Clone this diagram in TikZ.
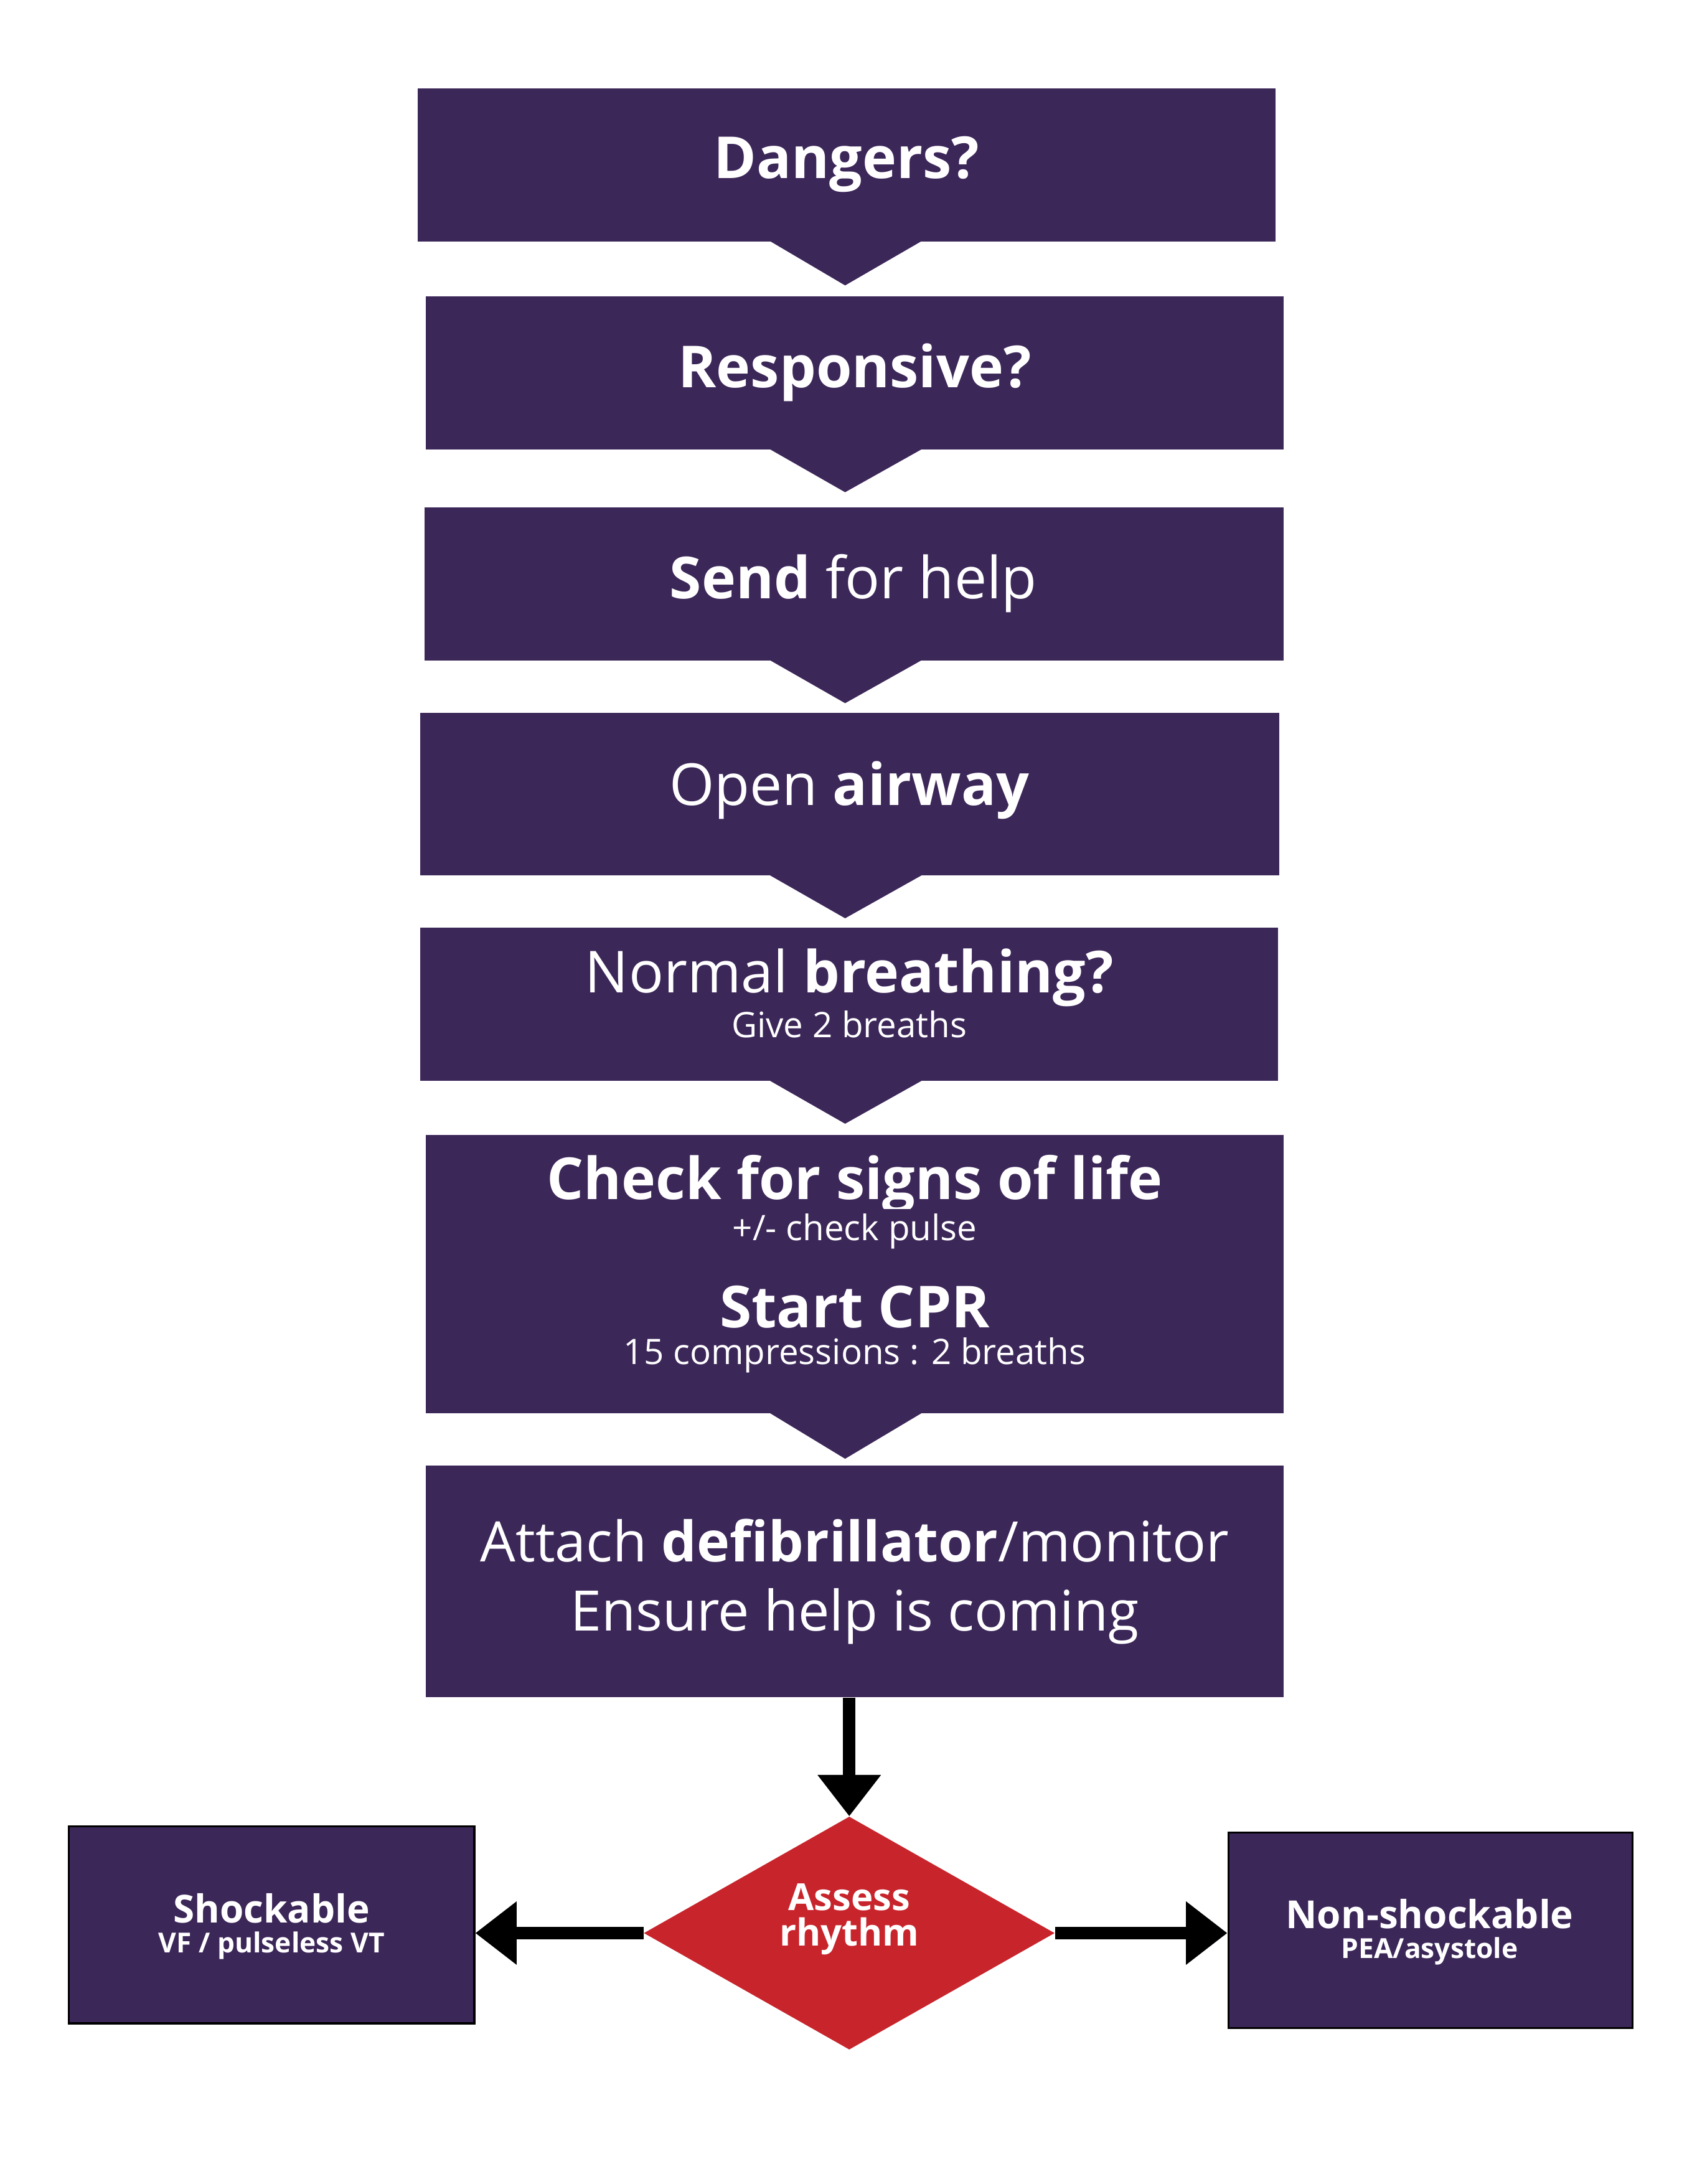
\documentclass[tikz,border=0pt]{standalone}
\usepackage{fontspec}
\setmainfont{Open Sans}
\usetikzlibrary{shapes.geometric,arrows.meta}
\definecolor{pur}{HTML}{3C2759}
\definecolor{rd}{HTML}{C8242C}
\tikzset{
 box/.style={fill=pur,text=white,align=center},
 big/.style={font=\fontsize{42}{48}\selectfont},
 small/.style={font=\fontsize{25.5}{30}\selectfont},
 thick arrow/.style={line width=9pt,-{Triangle[length=30pt,width=44pt]}}
}
\begin{document}
\begin{tikzpicture}[x=1pt,y=-1pt]
\useasboundingbox (0,0) rectangle (1227,1584);
\fill[pur] (303,64) rectangle (925,175); \fill[pur] (557,174) -- (613,207) -- (670,174) -- cycle;
\node[box,big] (b1) at (614,119) {\textbf{Dangers?}};
\fill[pur] (309,215) rectangle (931,326); \fill[pur] (557,325) -- (613,357) -- (670,325) -- cycle;
\node[box,big] (b2) at (620,270) {\textbf{Responsive?}};
\fill[pur] (308,368) rectangle (931,479); \fill[pur] (557,478) -- (613,510) -- (670,478) -- cycle;
\node[box,big] (b3) at (619,423) {\textbf{Send} for help};
\fill[pur] (305,517) rectangle (928,635); \fill[pur] (557,634) -- (613,666) -- (670,634) -- cycle;
\node[box,big] (b4) at (616,573) {Open \textbf{airway}};
\fill[pur] (305,673) rectangle (927,784); \fill[pur] (557,783) -- (613,815) -- (670,783) -- cycle;
\node[box,big] (b5) at (616,709) {Normal \textbf{breathing?}};
\node[box,small] (b5s) at (616,743) {Give 2 breaths};
\fill[pur] (309,823) rectangle (931,1025); \fill[pur] (557,1024) -- (613,1058) -- (670,1024) -- cycle;
\node[box,big] (b6) at (620,859) {\textbf{Check for signs of life}};
\node[box,small] (b6s) at (620,893) {+/- check pulse};
\node[box,big] (b6b) at (620,948) {\textbf{Start CPR}};
\node[box,small] (b6c) at (620,983) {15 compressions : 2 breaths};
\node[box,minimum width=622pt,minimum height=168pt,inner sep=0pt,
  font=\fontsize{40.5}{50}\selectfont] (b7) at (620,1147)
  {Attach \textbf{defibrillator}/monitor\\Ensure help is coming};
\node[diamond,fill=rd,minimum width=298pt,minimum height=169pt,inner sep=0pt,aspect=1.76] (d) at (616,1402) {};
\node[text=white,align=center,font=\bfseries\fontsize{27}{26}\selectfont] at (616,1392) {Assess\\rhythm};
\node[box,draw=black,line width=1.5pt,minimum width=294pt,minimum height=143pt,inner sep=0pt] (s) at (197,1396) {};
\node[box,font=\bfseries\fontsize{28}{30}\selectfont] at (197,1384) {Shockable};
\node[box,font=\bfseries\fontsize{20}{22}\selectfont] at (197,1411) {VF / pulseless VT};
\node[box,draw=black,line width=1.5pt,minimum width=293pt,minimum height=142pt,inner sep=0pt] (n) at (1037.5,1400) {};
\node[box,font=\bfseries\fontsize{28}{30}\selectfont] at (1037,1388) {Non-shockable};
\node[box,font=\bfseries\fontsize{20}{22}\selectfont] at (1037,1415) {PEA/asystole};
\draw[thick arrow] (b7.south -| d.north) -- (d.north);
\draw[thick arrow] (d.west) -- (s.east |- d.west);
\draw[thick arrow] (d.east) -- (n.west |- d.east);
\end{tikzpicture}
\end{document}
